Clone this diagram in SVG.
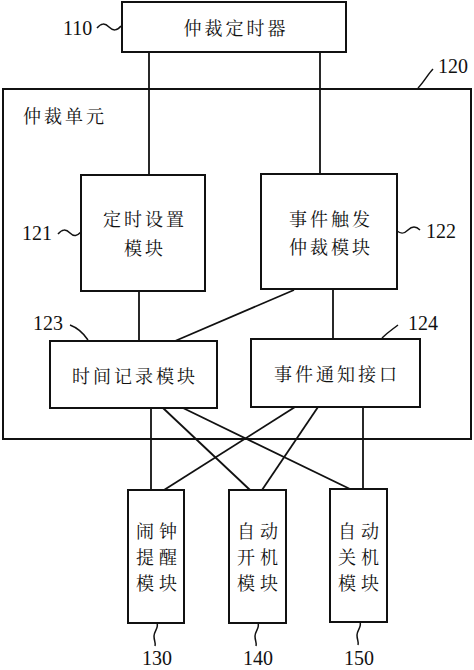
<svg xmlns="http://www.w3.org/2000/svg" width="474" height="670" viewBox="0 0 474 670">
<style>
.box{fill:#fff;stroke:#111;stroke-width:2}
.ln{fill:none;stroke:#111;stroke-width:1.8}
.lead{fill:none;stroke:#111;stroke-width:1.5}
.cj{font-family:"Noto Serif CJK SC","Noto Sans CJK SC",serif;font-size:18px;fill:#111;text-anchor:middle;dominant-baseline:central;letter-spacing:3px}
.cj2{letter-spacing:5px}
.num{font-family:"Liberation Serif",serif;font-size:20px;fill:#111;dominant-baseline:central}
</style>
<rect width="474" height="670" fill="#fff"/>
<g id="n120">
<rect class="box" x="3" y="89" width="468" height="350"/>
<text class="cj" x="65" y="115">仲裁单元</text>
<path class="lead" d="M418,88 C424,82 428,74 433,69"/>
<text class="num" x="438" y="66">120</text>
</g>
<g id="connectors">
<line class="ln" x1="149" y1="52" x2="149" y2="175"/>
<line class="ln" x1="320" y1="52" x2="320" y2="174"/>
<line class="ln" x1="139" y1="291" x2="139" y2="341"/>
<line class="ln" x1="333" y1="289" x2="333" y2="339"/>
<line class="ln" x1="294" y1="290" x2="175" y2="341"/>
<line class="ln" x1="151" y1="408" x2="151" y2="490"/>
<line class="ln" x1="163" y1="408" x2="250" y2="490"/>
<line class="ln" x1="183" y1="408" x2="350" y2="489"/>
<line class="ln" x1="295" y1="407" x2="164" y2="490"/>
<line class="ln" x1="318" y1="407" x2="262" y2="490"/>
<line class="ln" x1="363" y1="407" x2="363" y2="489"/>
</g>
<g id="n110">
<rect class="box" x="122" y="2" width="224" height="50"/>
<text class="cj" x="236" y="27">仲裁定时器</text>
<path class="lead" d="M97,28 c4,-5 8,-5 12,-1 s8,4 12,-1"/>
<text class="num" x="63" y="28">110</text>
</g>
<g id="n121">
<rect class="box" x="81" y="175" width="124" height="116"/>
<text class="cj" x="145" y="218">定时设置</text>
<text class="cj" x="145" y="247">模块</text>
<path class="lead" d="M58,234 c4,-5 8,-5 12,-1 s7,3 11,-1"/>
<text class="num" x="22" y="233">121</text>
</g>
<g id="n122">
<rect class="box" x="261" y="174" width="136" height="115"/>
<text class="cj" x="331" y="218">事件触发</text>
<text class="cj" x="331" y="246">仲裁模块</text>
<path class="lead" d="M397,231 c4,3 7,3 11,-1 s8,-4 12,0"/>
<text class="num" x="426" y="231">122</text>
</g>
<g id="n123">
<rect class="box" x="50" y="341" width="167" height="67"/>
<text class="cj" x="135" y="375">时间记录模块</text>
<path class="lead" d="M70,325 C78,328 84,334 88,340"/>
<text class="num" x="33" y="323">123</text>
</g>
<g id="n124">
<rect class="box" x="251" y="339" width="169" height="68"/>
<text class="cj" x="337" y="373">事件通知接口</text>
<path class="lead" d="M382,338 C388,332 393,329 398,325"/>
<text class="num" x="408" y="323">124</text>
</g>
<g id="n130">
<rect class="box" x="128" y="490" width="56" height="133"/>
<text class="cj cj2" x="159" y="530">闹钟</text>
<text class="cj cj2" x="159" y="556">提醒</text>
<text class="cj cj2" x="159" y="582">模块</text>
<path class="lead" d="M157,623 c2,5 -3,8 -3,13 s2,7 1,10"/>
<text class="num" x="157" y="658" text-anchor="middle">130</text>
</g>
<g id="n140">
<rect class="box" x="229" y="490" width="57" height="133"/>
<text class="cj cj2" x="260" y="530">自动</text>
<text class="cj cj2" x="260" y="556">开机</text>
<text class="cj cj2" x="260" y="582">模块</text>
<path class="lead" d="M258,623 c2,5 -3,8 -3,13 s2,7 1,10"/>
<text class="num" x="258" y="658" text-anchor="middle">140</text>
</g>
<g id="n150">
<rect class="box" x="330" y="489" width="57" height="133"/>
<text class="cj cj2" x="361" y="530">自动</text>
<text class="cj cj2" x="361" y="556">关机</text>
<text class="cj cj2" x="361" y="582">模块</text>
<path class="lead" d="M360,622 c2,5 -3,8 -3,13 s2,7 1,10"/>
<text class="num" x="359" y="658" text-anchor="middle">150</text>
</g>
</svg>
